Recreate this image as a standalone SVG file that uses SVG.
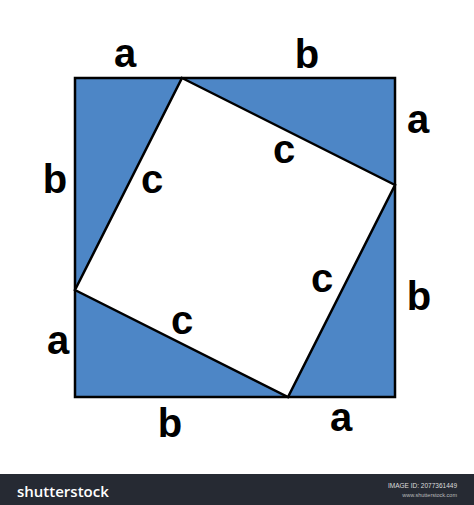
<svg xmlns="http://www.w3.org/2000/svg" width="474" height="505" viewBox="0 0 474 505">
<style>
.tri{fill:#4d86c6;stroke:#000;stroke-width:2.5;stroke-linejoin:miter}
.sq{fill:#fff;stroke:#000;stroke-width:2.5}
.lbl{font-family:"Liberation Sans",Arial,sans-serif;font-weight:bold;font-size:40px;fill:#000;text-anchor:middle}
.bar{fill:#262a33}
</style>
<rect width="474" height="505" fill="#fff"/>
<g id="outer">
<rect class="tri" x="75" y="78" width="320" height="319"/>
</g>
<g id="inner">
<polygon class="sq" points="182,78 395,185 288,397 75,290"/>
</g>
<g id="labels">
<text class="lbl" x="125" y="67">a</text>
<text class="lbl" x="307" y="68">b</text>
<text class="lbl" x="418" y="133">a</text>
<text class="lbl" x="55" y="193">b</text>
<text class="lbl" x="419" y="310">b</text>
<text class="lbl" x="58" y="354">a</text>
<text class="lbl" x="170" y="437">b</text>
<text class="lbl" x="341" y="431">a</text>
<text class="lbl" x="284" y="163">c</text>
<text class="lbl" x="152" y="193">c</text>
<text class="lbl" x="322" y="292">c</text>
<text class="lbl" x="182" y="334">c</text>
</g>
<g id="footer">
<rect class="bar" x="0" y="474" width="474" height="31"/>
<text x="17" y="497" font-family="'Open Sans','Liberation Sans',sans-serif" font-size="15" font-weight="600" fill="#fff">shutterstock</text>
<text x="457" y="488" font-family="'Liberation Sans',sans-serif" font-size="6.5" fill="#ddd" text-anchor="end">IMAGE ID: 2077361449</text>
<text x="457" y="497" font-family="'Liberation Sans',sans-serif" font-size="5.5" fill="#bbb" text-anchor="end">www.shutterstock.com</text>
</g>
</svg>
